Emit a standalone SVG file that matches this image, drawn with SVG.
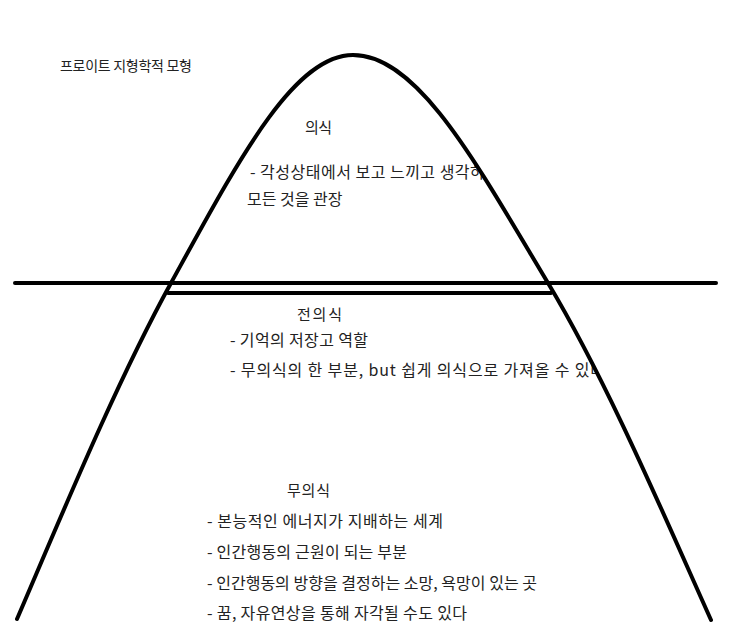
<svg xmlns="http://www.w3.org/2000/svg" width="740" height="638" viewBox="0 0 740 638">
  <style>
    .line { fill: none; stroke: #000; stroke-width: 4; stroke-linecap: round; stroke-linejoin: round; }
    .t { font-family: "Noto Sans CJK KR", "Noto Sans", sans-serif; font-size: 16px; fill: #222; }
    .h { font-family: "Noto Sans CJK KR", "Noto Sans", sans-serif; font-size: 15px; fill: #222; }
    .title { font-family: "Noto Sans CJK KR", "Noto Sans", sans-serif; font-size: 14px; fill: #222; }
  </style>
  <defs>
    <clipPath id="inside">
      <path d="M 17 619 C 60 519 116 383 171 283 C 237 163 293 55 353 55 C 418 55 476 163 548 283 C 608 383 666 520 711 620 Z"/>
    </clipPath>
  </defs>
  <rect x="0" y="0" width="740" height="638" fill="#fff"/>

  <g id="title">
    <text class="title" x="60" y="71" textLength="132" lengthAdjust="spacing">프로이트 지형학적 모형</text>
  </g>

  <g id="conscious">
    <text class="h" x="305" y="133" font-size="14" textLength="27" lengthAdjust="spacing">의식</text>
    <text class="t" x="250" y="178" textLength="250" lengthAdjust="spacing" clip-path="url(#inside)">- 각성상태에서 보고 느끼고 생각하는</text>
    <text class="t" x="247" y="205" font-size="15">모든 것을 관장</text>
  </g>

  <g id="preconscious">
    <text class="h" x="297" y="320" textLength="45" lengthAdjust="spacing">전의식</text>
    <text class="t" x="230" y="346" textLength="138" lengthAdjust="spacing">- 기억의 저장고 역할</text>
    <text class="t" x="230" y="376" textLength="375" lengthAdjust="spacing" clip-path="url(#inside)">- 무의식의 한 부분, but 쉽게 의식으로 가져올 수 있다</text>
  </g>

  <g id="unconscious">
    <text class="h" x="287" y="496" textLength="43" lengthAdjust="spacing">무의식</text>
    <text class="t" x="207" y="527" textLength="236" lengthAdjust="spacing">- 본능적인 에너지가 지배하는 세계</text>
    <text class="t" x="207" y="558" textLength="200" lengthAdjust="spacing">- 인간행동의 근원이 되는 부분</text>
    <text class="t" x="207" y="589" textLength="330" lengthAdjust="spacing">- 인간행동의 방향을 결정하는 소망, 욕망이 있는 곳</text>
    <text class="t" x="207" y="619" textLength="260" lengthAdjust="spacing">- 꿈, 자유연상을 통해 자각될 수도 있다</text>
  </g>

  <g id="connectors">
    <path class="line" d="M 17 619 C 60 519 116 383 171 283 C 237 163 293 55 353 55 C 418 55 476 163 548 283 C 608 383 666 520 711 620"/>
    <line class="line" x1="15" y1="283" x2="716" y2="283"/>
    <line class="line" x1="168" y1="293" x2="551" y2="293"/>
  </g>
</svg>
